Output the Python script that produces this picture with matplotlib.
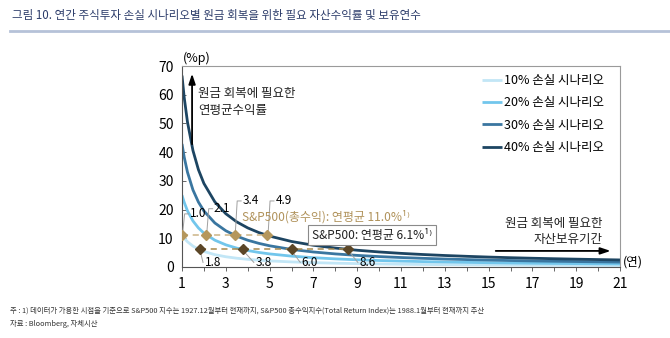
import matplotlib
matplotlib.use('Agg')
import matplotlib.pyplot as plt
from matplotlib.lines import Line2D

plt.rcParams['font.family'] = ['Noto Sans CJK KR', 'DejaVu Sans']

# 보유연수별 원금 회복에 필요한 연평균수익률 (%p)
years = [1, 1.1, 1.25, 1.5, 1.75, 2, 2.5, 3, 3.5, 4, 4.5, 5, 6, 7, 8, 9, 10,
         11, 12, 13, 14, 15, 16, 17, 18, 19, 20, 21]
loss10 = [11.11, 10.04, 8.79, 7.28, 6.21, 5.41, 4.30, 3.57, 3.06, 2.67, 2.37, 2.13,
          1.77, 1.52, 1.33, 1.18, 1.06, 0.96, 0.88, 0.81, 0.76, 0.70, 0.66,
          0.62, 0.59, 0.56, 0.53, 0.50]
loss20 = [25.00, 22.54, 19.54, 16.04, 13.60, 11.80, 9.34, 7.72, 6.58, 5.74, 5.08, 4.56,
          3.79, 3.24, 2.83, 2.51, 2.26, 2.05, 1.88, 1.73, 1.61, 1.50, 1.40,
          1.32, 1.25, 1.18, 1.12, 1.07]
loss30 = [42.86, 38.29, 33.02, 26.84, 22.61, 19.52, 15.33, 12.62, 10.73, 9.33, 8.25, 7.39,
          6.12, 5.23, 4.56, 4.04, 3.63, 3.30, 3.02, 2.78, 2.58, 2.41, 2.25,
          2.12, 2.00, 1.90, 1.80, 1.71]
loss40 = [66.67, 59.07, 50.48, 40.57, 33.90, 29.10, 22.67, 18.56, 15.71, 13.62, 12.02, 10.76,
          8.89, 7.57, 6.59, 5.84, 5.24, 4.75, 4.35, 4.01, 3.72, 3.46, 3.24,
          3.05, 2.88, 2.73, 2.59, 2.46]
labels = ['10% 손실 시나리오', '20% 손실 시나리오', '30% 손실 시나리오', '40% 손실 시나리오']
colors = ['#c2e6f6', '#72c6ec', '#3a76a0', '#1d4562']

# S&P500 연평균 수익률 기준 필요 보유연수
tr_rate = 11.0
tr_years = [1.0, 2.1, 3.4, 4.9]
px_rate = 6.1
px_years = [1.8, 3.8, 6.0, 8.6]

fig = plt.figure(figsize=(6.7, 3.38), dpi=100)
ax = fig.add_axes([182/670, 1 - 267/338, 438/670, 201/338])

for ys, lab, c in zip([loss10, loss20, loss30, loss40], labels, colors):
    ax.plot(years, ys, color=c, lw=2.0, label=lab, zorder=2, solid_capstyle='butt')

# 수익률 수평선과 마커
ax.plot([tr_years[0], tr_years[-1]], [tr_rate, tr_rate], ls=(0, (4, 3)),
        color='#cbb486', lw=1.1, zorder=3)
ax.plot(tr_years, [tr_rate] * len(tr_years), 'D', color='#b5975c', ms=5.5, zorder=4)
ax.plot([px_years[0], px_years[-1]], [px_rate, px_rate], ls=(0, (4, 3)),
        color='#a8894c', lw=1.1, zorder=3)
ax.plot(px_years, [px_rate] * len(px_years), 'D', color='#5b4627', ms=5.5, zorder=4)

lead = dict(color='#a0a0a0', lw=0.7, zorder=3)
top_y = [18.5, 20.3, 23.0, 23.0]
for x, ly in zip(tr_years, top_y):
    ax.plot([x + 0.04, x + 0.12, x + 0.3], [12.6, ly, ly], **lead)
    ax.text(x + 0.36, ly, f'{x:.1f}', fontsize=8.5, va='center', ha='left', zorder=5)

bot_dx = [0.23, 0.55, 0.47, 0.5]
for x, dx in zip(px_years, bot_dx):
    ax.plot([x + 0.04, x + dx - 0.07], [5.3, 1.6], **lead)
    ax.text(x + dx, 1.7, f'{x:.1f}', fontsize=8.5, va='center', ha='left', zorder=5)

ax.text(3.72, 17.4, f'S&P500(총수익): 연평균 {tr_rate:.1f}%¹⁾', color='#b0925a',
        fontsize=8.6, va='center', ha='left', zorder=5)
ax.text(9.68, 11.1, f'S&P500: 연평균 {px_rate:.1f}%¹⁾', color='#222222',
        fontsize=8.6, va='center', ha='center', zorder=5,
        bbox=dict(boxstyle='square,pad=0.3', fc='white', ec='#8a8a8a', lw=0.8))

# 화살표 설명
ax.annotate('', xy=(1.46, 68.3), xytext=(1.46, 41.8),
            arrowprops=dict(arrowstyle='-|>,head_length=0.6,head_width=0.2',
                            color='black', lw=1.3))
ax.text(1.75, 57.5, '원금 회복에 필요한\n연평균수익률', fontsize=9, va='center',
        ha='left', linespacing=1.35, color='#222222')
ax.annotate('', xy=(20.7, 5.6), xytext=(15.2, 5.6),
            arrowprops=dict(arrowstyle='-|>,head_length=0.6,head_width=0.2',
                            color='black', lw=1.3))
ax.text(20.2, 12.4, '원금 회복에 필요한\n자산보유기간', fontsize=9, va='center',
        ha='right', linespacing=1.35, color='#222222')

ax.set_xlim(1, 21)
ax.set_ylim(0, 70)
ax.set_xticks(range(1, 22, 2))
ax.set_xticks(range(1, 22), minor=True)
ax.set_yticks(range(0, 71, 10))
ax.tick_params(axis='x', which='both', direction='out', length=3, width=0.7,
               color='#666666', labelsize=10, pad=4)
ax.tick_params(axis='y', direction='in', length=3, width=0.7, color='#666666',
               labelsize=10, pad=6)
for s in ['left', 'bottom']:
    ax.spines[s].set_color('#555555')
    ax.spines[s].set_linewidth(0.8)
for s in ['top', 'right']:
    ax.spines[s].set_color('#9a9a9a')
    ax.spines[s].set_linewidth(0.8)

ax.legend(loc='upper left', bbox_to_anchor=(482/670, 1 - 74/338),
          bbox_transform=fig.transFigure, frameon=False, fontsize=9,
          handlelength=1.6, handletextpad=0.15, labelspacing=0.75,
          borderpad=0, borderaxespad=0)

fig.text(183/670, 1 - 58/338, '(%p)', fontsize=9, va='center', ha='left')
fig.text(623/670, 1 - 262/338, '(연)', fontsize=9, va='center', ha='left')

fig.text(12/670, 1 - 16/338,
         '그림 10. 연간 주식투자 손실 시나리오별 원금 회복을 위한 필요 자산수익률 및 보유연수',
         fontsize=8.3, color='#2c3c6a', va='center', ha='left')
fig.add_artist(Line2D([10/670, 1], [1 - 31/338, 1 - 31/338], color='#b6c2d8', lw=2))
fig.text(10/670, 1 - 311/338,
         '주 : 1) 데이터가 가용한 시점을 기준으로 S&P500 지수는 1927.12월부터 현재까지, '
         'S&P500 총수익지수(Total Return Index)는 1988.1월부터 현재까지 추산',
         fontsize=5.3, color='#333333', va='center', ha='left')
fig.text(10/670, 1 - 324/338, '자료 : Bloomberg, 자체시산', fontsize=5.3,
         color='#333333', va='center', ha='left')

fig.savefig('out.png', dpi=100)
